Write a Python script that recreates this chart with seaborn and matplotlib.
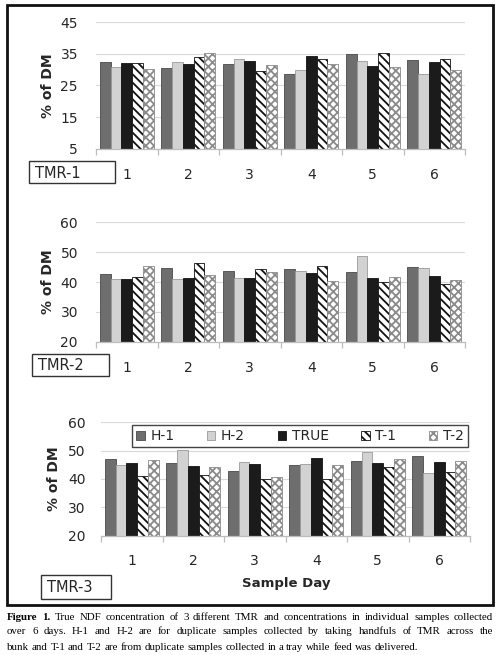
import numpy as np
import pandas as pd
import matplotlib
matplotlib.use("Agg")
import matplotlib.pyplot as plt
import seaborn as sns
from matplotlib.patches import Patch, Rectangle

# ---------------- data ----------------
days = ["1", "2", "3", "4", "5", "6"]
series = ["H-1", "H-2", "TRUE", "T-1", "T-2"]

tmr1_h1 = [32.4, 30.6, 31.7, 28.6, 35.1, 33.2]
tmr1_h2 = [30.9, 32.4, 33.4, 29.8, 32.8, 28.6]
tmr1_true = [32.2, 31.7, 32.8, 34.3, 31.3, 32.4]
tmr1_t1 = [32.2, 34.1, 29.6, 33.4, 35.3, 33.4]
tmr1_t2 = [30.1, 35.4, 31.6, 31.7, 30.7, 29.8]

tmr2_h1 = [42.7, 44.7, 43.7, 44.2, 43.4, 45.1]
tmr2_h2 = [40.9, 41.1, 41.2, 43.7, 48.6, 44.6]
tmr2_true = [41.1, 41.5, 41.2, 43.1, 41.5, 42.0]
tmr2_t1 = [41.6, 46.5, 44.4, 45.5, 39.9, 39.2]
tmr2_t2 = [45.5, 42.2, 43.4, 40.3, 41.6, 40.7]

tmr3_h1 = [46.9, 45.5, 42.8, 44.8, 46.2, 48.1]
tmr3_h2 = [45.1, 50.2, 45.9, 45.4, 49.4, 42.2]
tmr3_true = [45.5, 44.7, 45.2, 47.3, 45.5, 46.0]
tmr3_t1 = [41.1, 41.3, 40.1, 39.9, 44.2, 42.4]
tmr3_t2 = [46.7, 44.2, 40.8, 44.8, 47.2, 46.5]

panel_names = ["TMR-1", "TMR-2", "TMR-3"]
yticks1 = [5, 15, 25, 35, 45]
yticks2 = [20, 30, 40, 50, 60]
yticks3 = [20, 30, 40, 50, 60]

caption_l1_bold = "Figure 1."
caption_l1 = "True NDF concentration of 3 different TMR and concentrations in individual samples collected"
caption_l2 = "over 6 days. H-1 and H-2 are for duplicate samples collected by taking handfuls of TMR across the"
caption_l3 = "bunk and T-1 and T-2 are from duplicate samples collected in a tray while feed was delivered."


def long_frame(h1, h2, tr, t1, t2):
    rows = []
    for s, vals in zip(series, [h1, h2, tr, t1, t2]):
        for d, v in zip(days, vals):
            rows.append({"Day": d, "Series": s, "Value": v})
    return pd.DataFrame(rows)


frames = [
    long_frame(tmr1_h1, tmr1_h2, tmr1_true, tmr1_t1, tmr1_t2),
    long_frame(tmr2_h1, tmr2_h2, tmr2_true, tmr2_t1, tmr2_t2),
    long_frame(tmr3_h1, tmr3_h2, tmr3_true, tmr3_t1, tmr3_t2),
]

# ---------------- style ----------------
plt.rcParams["font.family"] = ["DejaVu Sans"]
plt.rcParams["hatch.linewidth"] = 1.3
W, H = 502, 655
fig = plt.figure(figsize=(W / 100, H / 100), dpi=100)

face = {"H-1": "#6e6e6e", "H-2": "#d2d2d2", "TRUE": "#1b1b1b", "T-1": "#ffffff", "T-2": "#ffffff"}
edge = {"H-1": "#4a4a4a", "H-2": "#9a9a9a", "TRUE": "#111111", "T-1": "#111111", "T-2": "#8a8a8a"}
hatch = {"H-1": None, "H-2": None, "TRUE": None, "T-1": "\\\\\\\\", "T-2": "xxxx"}
text_col = "#262626"


def fx(x):
    return x / W


def fy(y):
    return 1 - y / H


panels = [
    dict(rect=(96, 22.3, 465, 148.7), ylim=(5, 45), ticks=yticks1, ylab_x=55,
         box=(29, 161, 115, 183), ypad=13, xpad=14),
    dict(rect=(96, 222.3, 465, 341.7), ylim=(20, 60), ticks=yticks2, ylab_x=55,
         box=(32, 354, 109, 376), ypad=13, xpad=14),
    dict(rect=(101, 422.3, 470, 535.7), ylim=(20, 60), ticks=yticks3, ylab_x=61,
         box=(41, 575, 111, 599), ypad=11, xpad=13),
]

for i, (p, df) in enumerate(zip(panels, frames)):
    x0, y0, x1, y1 = p["rect"]
    ax = fig.add_axes([fx(x0), fy(y1), fx(x1) - fx(x0), (y1 - y0) / H])
    sns.barplot(data=df, x="Day", y="Value", hue="Series", order=days, hue_order=series,
                palette=face, saturation=1, width=0.87, errorbar=None, legend=False, ax=ax)
    for s, cont in zip(series, ax.containers):
        for bar in cont:
            bar.set_facecolor(face[s])
            bar.set_edgecolor(edge[s])
            bar.set_linewidth(0.6)
            if hatch[s]:
                bar.set_hatch(hatch[s])
    ax.set_ylim(*p["ylim"])
    ax.set_xlim(-0.5, 5.5)
    ax.set_yticks(p["ticks"])
    ax.set_yticklabels([str(t) for t in p["ticks"]])
    ax.grid(axis="y", color="#d9d9d9", linewidth=0.8)
    ax.set_axisbelow(True)
    for side in ["top", "right", "left"]:
        ax.spines[side].set_visible(False)
    ax.spines["bottom"].set_color("#bdbdbd")
    ax.spines["bottom"].set_linewidth(0.9)
    ax.tick_params(axis="y", length=0, labelsize=10, pad=p["ypad"], labelcolor=text_col)
    ax.tick_params(axis="x", which="major", length=0, labelsize=10, pad=p["xpad"], labelcolor=text_col)
    ax.set_xticks(np.arange(-0.5, 6.0, 1.0), minor=True)
    ax.tick_params(axis="x", which="minor", length=4, color="#bdbdbd", width=0.9)
    ax.set_xlabel("")
    ax.set_ylabel("% of DM", fontsize=10, fontweight="bold", color=text_col)
    ax.yaxis.set_label_coords((p["ylab_x"] - x0) / (x1 - x0), 0.5)

    bx0, by0, bx1, by1 = p["box"]
    fig.patches.append(Rectangle((fx(bx0), fy(by1)), fx(bx1) - fx(bx0), (by1 - by0) / H,
                                 transform=fig.transFigure, fill=False,
                                 edgecolor="#333333", linewidth=1.0))
    fig.text(fx(bx0 + 6), fy((by0 + by1) / 2 + 1), panel_names[i], fontsize=10.5,
             color=text_col, ha="left", va="center")

    if i == 2:
        handles = [Patch(facecolor=face[s], edgecolor=edge[s], hatch=hatch[s], linewidth=0.6)
                   for s in series]
        leg = ax.legend(handles, series, ncol=5, loc="center",
                        bbox_to_anchor=(fx(300), fy(436)), bbox_transform=fig.transFigure,
                        fontsize=10, frameon=True, fancybox=False, framealpha=1,
                        edgecolor="#444444", handlelength=0.6, handleheight=0.6,
                        handletextpad=0.4, columnspacing=2.35, borderpad=0.3)
        leg.get_frame().set_linewidth(1.0)
        for t in leg.get_texts():
            t.set_color(text_col)

fig.text(fx(286), fy(583), "Sample Day", fontsize=9.5, fontweight="bold",
         color=text_col, ha="center", va="center")

# outer frame
fig.patches.append(Rectangle((fx(7), fy(605)), fx(493) - fx(7), 600 / H,
                             transform=fig.transFigure, fill=False,
                             edgecolor="#111111", linewidth=2.0))

# ---------------- caption (justified) ----------------
fig.canvas.draw()
renderer = fig.canvas.get_renderer()
serif = "Liberation Serif"


def measure(s, size, weight="normal"):
    t = fig.text(0, 0, s, fontsize=size, family=serif, fontweight=weight)
    w = t.get_window_extent(renderer).width
    t.remove()
    return w


base = 10.0
size = 1.03 * base * 396.0 / measure(caption_l3, base)
space_w = measure("x x", size) - measure("xx", size)


def place(words, yc, left, right, justify):
    widths = [measure(w, size, wt) for w, wt in words]
    if justify and len(words) > 1:
        gap = (right - left - sum(widths)) / (len(words) - 1)
    else:
        gap = space_w
    x = left
    for (w, wt), wd in zip(words, widths):
        fig.text(fx(x), fy(yc), w, fontsize=size, family=serif, fontweight=wt,
                 color="#000000", ha="left", va="center")
        x += wd + gap


line1 = [(w, "bold") for w in caption_l1_bold.split()] + [(w, "normal") for w in caption_l1.split()]
line2 = [(w, "normal") for w in caption_l2.split()]
line3 = [(w, "normal") for w in caption_l3.split()]
place(line1, 617, 7, 493, True)
place(line2, 632, 7, 493, True)
place(line3, 647, 7, 493, False)

fig.savefig("out.png", dpi=100)
